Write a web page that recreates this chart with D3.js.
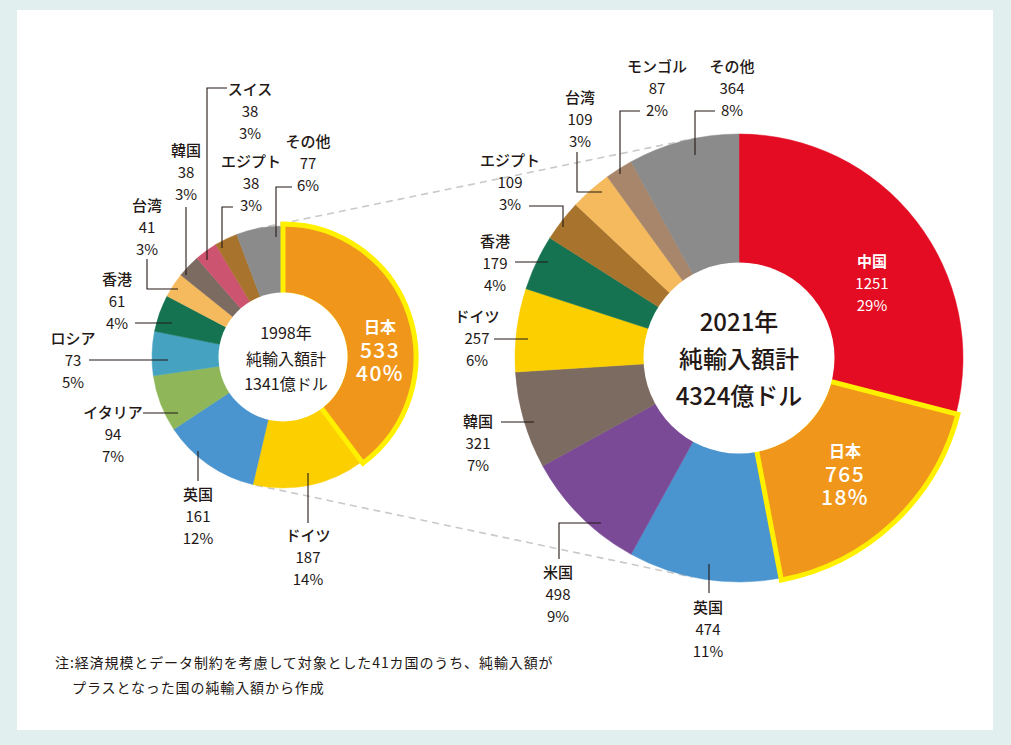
<!DOCTYPE html>
<html><head><meta charset="utf-8">
<script src="https://cdn.jsdelivr.net/npm/d3@7"></script>
<style>
html,body{margin:0;padding:0;background:#e1f0ef;}
svg{display:block;font-family:"Noto Sans CJK JP","Noto Sans",sans-serif;}
</style></head><body>
<svg id="chart" width="1011" height="745"></svg>
<script>
// ---------- data ----------
const cats1998   = ["日本","ドイツ","英国","イタリア","ロシア","香港","台湾","韓国","スイス","エジプト","その他"];
const values1998 = [533,187,161,94,73,61,41,38,38,38,77];
const shares1998 = [40,14,12,7,5,4,3,3,3,3,6];
const total1998  = 1341;

const cats2021   = ["中国","日本","英国","米国","韓国","ドイツ","香港","エジプト","台湾","モンゴル","その他"];
const values2021 = [1251,765,474,498,321,257,179,109,109,87,364];
const shares2021 = [29,18,11,9,7,6,4,3,3,2,8];
const total2021  = 4324;

const colorOf = {
  "中国":"#e30c22","日本":"#f0971b","英国":"#4a95cf","米国":"#7b4a97","韓国":"#7c6b61",
  "ドイツ":"#fccf00","香港":"#167352","エジプト":"#a8742d","台湾":"#f6ba5e","モンゴル":"#a7866b",
  "その他":"#8b8b8b","イタリア":"#8fb75a","ロシア":"#45a3c1","スイス":"#cd5470"
};
const note = ["注:経済規模とデータ制約を考慮して対象とした41カ国のうち、純輸入額が",
              "プラスとなった国の純輸入額から作成"];

// ---------- layout ----------
const ink = "#231815";
const donutL = {cx:283, cy:357, r:131, ri:62, year:"1998年", total:total1998,
  cats:cats1998, values:values1998, shares:shares1998, sizeBy:"values",
  centerFont:16, centerWeight:400, centerY:[-24,2,27], centerDx:3, step:21.7};
const donutR = {cx:739, cy:358, r:224, ri:93, year:"2021年", total:total2021,
  cats:cats2021, values:values2021, shares:shares2021, sizeBy:"shares",
  centerFont:24, centerWeight:500, centerY:[-36,1,38], centerDx:0, step:22};

// outside labels: text anchor (centre x, first line y) and leader polylines
const labels1998 = {
  "ドイツ":{x:308,y:536,lead:[[308,473],[308,523]]},
  "英国":{x:198,y:495,lead:[[198,451],[198,481]]},
  "イタリア":{x:113,y:413,lead:[[143,413],[178,413]]},
  "ロシア":{x:73,y:339,lead:[[89,360],[168,360]]},
  "香港":{x:117,y:280,lead:[[135,323],[172,323]]},
  "台湾":{x:147,y:206,lead:[[147,259],[147,289],[178,289]]},
  "韓国":{x:186,y:151,lead:[[186,207],[186,275]]},
  "スイス":{x:250,y:90,lead:[[227,88],[207,88],[207,260]]},
  "エジプト":{x:251,y:162,lead:[[233,207],[222,207],[222,248]]},
  "その他":{x:308,y:142,lead:[[292,187],[276,187],[276,237]]}
};
const labels2021 = {
  "英国":{x:708,y:608,lead:[[709,564],[709,593]]},
  "米国":{x:558,y:573,lead:[[559,559],[559,523],[601,523]]},
  "韓国":{x:478,y:422,lead:[[501,422],[534,422]]},
  "ドイツ":{x:477,y:317,lead:[[494,339],[528,339]]},
  "香港":{x:495,y:242,lead:[[515,262],[548,262]]},
  "エジプト":{x:510,y:161,lead:[[529,206],[563,206],[563,227]]},
  "台湾":{x:580,y:98,lead:[[577,152],[577,192],[602,192]]},
  "モンゴル":{x:657,y:67,lead:[[640,111],[620,111],[620,174]]},
  "その他":{x:732,y:67,lead:[[715,111],[695,111],[695,155]]}
};
// inside (white) labels
const inner1998 = {"日本":{x:380,y:[327,350,373],sizes:[16,21,21],big:true}};
const inner2021 = {
  "中国":{x:872,y:[262,284,306],sizes:[15,15,15],big:false},
  "日本":{x:845,y:[451,474,497],sizes:[16,21,21],big:true}
};

const svg = d3.select("#chart");
// background panel
svg.append("rect").attr("x",0).attr("y",0).attr("width",1011).attr("height",745).attr("fill","#e1f0ef");
svg.append("rect").attr("x",17).attr("y",10).attr("width",976).attr("height",720).attr("fill","#ffffff");

// dashed external tangent lines between the two donuts
(function(){
  const dx = donutR.cx - donutL.cx, dy = donutR.cy - donutL.cy;
  const dist = Math.hypot(dx, dy);
  const ux = dx/dist, uy = dy/dist;
  const s = (donutR.r - donutL.r)/dist, c = Math.sqrt(1 - s*s);
  [-1, 1].forEach(sign => {
    const nx = -s*ux + sign*c*uy, ny = -s*uy - sign*c*ux;
    const x1 = donutL.cx + donutL.r*nx, y1 = donutL.cy + donutL.r*ny;
    const x2 = donutR.cx + donutR.r*nx, y2 = donutR.cy + donutR.r*ny;
    svg.append("line").attr("x1",x1).attr("y1",y1).attr("x2",x2).attr("y2",y2)
      .attr("stroke","#c9c9c9").attr("stroke-width",1.6).attr("stroke-dasharray","7,5");
  });
})();

function drawDonut(D, outLabels, inLabels){
  const data = D.cats.map((c,i)=>({cat:c, value:D.values[i], share:D.shares[i]}));
  const pie = d3.pie().sort(null).value(d => D.sizeBy==="values" ? d.value : d.share)
    .startAngle(0).endAngle(2*Math.PI);
  const arcs = pie(data);
  const g = svg.append("g").attr("transform",`translate(${D.cx},${D.cy})`);
  const arc = d3.arc().innerRadius(D.ri).outerRadius(D.r);
  const arcJ = d3.arc().innerRadius(D.ri).outerRadius(D.r + 2);
  g.selectAll("path.seg").data(arcs.filter(a=>a.data.cat!=="日本")).join("path")
    .attr("class","seg").attr("d",arc).attr("fill",a=>colorOf[a.data.cat])
    .attr("stroke",a=>colorOf[a.data.cat]).attr("stroke-width",0.5);
  g.selectAll("path.jp").data(arcs.filter(a=>a.data.cat==="日本")).join("path")
    .attr("class","jp").attr("d",arcJ).attr("fill",colorOf["日本"])
    .attr("stroke","#fff000").attr("stroke-width",5).attr("stroke-linejoin","miter");
  // hole
  g.append("circle").attr("r",D.ri+2.5).attr("fill","#fff");
  // center text
  const ct = [D.year, "純輸入額計", D.total + "億ドル"];
  ct.forEach((t,i)=>{
    g.append("text").attr("x",D.centerDx).attr("y",D.centerY[i]).attr("dy","0.36em")
      .attr("text-anchor","middle").attr("font-size",D.centerFont)
      .attr("font-weight",D.centerWeight).attr("fill",ink).text(t);
  });
  // inside labels
  arcs.forEach(a=>{
    const L = inLabels[a.data.cat]; if(!L) return;
    const lines = [a.data.cat, String(a.data.value), a.data.share + "%"];
    lines.forEach((t,i)=>{
      svg.append("text").attr("x",L.x).attr("y",L.y[i]).attr("dy","0.36em")
        .attr("text-anchor","middle").attr("font-size",L.sizes[i])
        .attr("font-weight", i===0 ? 700 : (L.big?500:400))
        .attr("letter-spacing", (L.big && i>0) ? 1.4 : 0)
        .attr("fill","#fff").text(t);
    });
  });
  // outside labels + leaders
  const line = d3.line();
  arcs.forEach(a=>{
    const L = outLabels[a.data.cat]; if(!L) return;
    svg.append("path").attr("d",line(L.lead)).attr("fill","none")
      .attr("stroke",ink).attr("stroke-width",1.1);
    const lines = [a.data.cat, String(a.data.value), a.data.share + "%"];
    lines.forEach((t,i)=>{
      svg.append("text").attr("x",L.x).attr("y",L.y + i*D.step).attr("dy","0.36em")
        .attr("text-anchor","middle").attr("font-size",15)
        .attr("font-weight", i===0 ? 500 : 400).attr("fill",ink).text(t);
    });
  });
}
drawDonut(donutL, labels1998, inner1998);
drawDonut(donutR, labels2021, inner2021);

// footnote
svg.append("text").attr("x",55).attr("y",663).attr("dy","0.36em").attr("font-size",14)
  .attr("letter-spacing",0.9).attr("fill",ink).text(note[0]);
svg.append("text").attr("x",72).attr("y",688).attr("dy","0.36em").attr("font-size",14)
  .attr("letter-spacing",0.9).attr("fill",ink).text(note[1]);
</script>
</body></html>
